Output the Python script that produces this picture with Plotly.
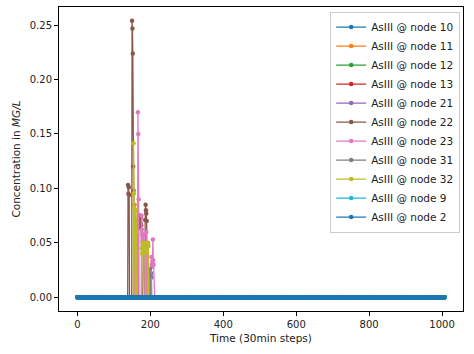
import numpy as np
import plotly.graph_objects as go

# ---- data ----
n_steps = 1008
time_steps = list(range(n_steps))

node_names = ["10", "11", "12", "13", "21", "22", "23", "31", "32", "9", "2"]
node_colors = ["#1f77b4", "#ff7f0e", "#2ca02c", "#d62728", "#9467bd", "#8c564b",
               "#e377c2", "#7f7f7f", "#bcbd22", "#17becf", "#1f77b4"]

# non-zero segments: start step and consecutive values
n10_start, n10_vals = [], []
n11_start = [157]
n11_vals = [[0.085, 0.07]]
n12_start, n12_vals = [], []
n13_start, n13_vals = [], []
n21_start = [202]
n21_vals = [[0.022, 0.018]]
n22_start = [139, 150, 168, 186]
n22_vals = [[0.103, 0.095, 0.101, 0.094],
            [0.254, 0.247, 0.224, 0.120, 0.098],
            [0.072, 0.066, 0.075, 0.064, 0.070, 0.068, 0.073, 0.066],
            [0.071, 0.085, 0.080, 0.077, 0.070]]
n23_start = [158, 166, 176, 189, 203]
n23_vals = [[0.080, 0.060],
            [0.170, 0.150, 0.090],
            [0.075, 0.062, 0.058, 0.052, 0.056],
            [0.060, 0.045],
            [0.037, 0.030, 0.028, 0.033, 0.053, 0.034, 0.030]]
n31_start = [199]
n31_vals = [[0.026, 0.020]]
n32_start = [154, 161, 177, 194]
n32_vals = [[0.1415, 0.095, 0.082],
            [0.080, 0.060],
            [0.045, 0.040, 0.050, 0.042, 0.048, 0.044, 0.046, 0.050, 0.041, 0.044],
            [0.050, 0.047]]
n9_start, n9_vals = [], []
n2_start, n2_vals = [], []

segments = [(n10_start, n10_vals), (n11_start, n11_vals), (n12_start, n12_vals),
            (n13_start, n13_vals), (n21_start, n21_vals), (n22_start, n22_vals),
            (n23_start, n23_vals), (n31_start, n31_vals), (n32_start, n32_vals),
            (n9_start, n9_vals), (n2_start, n2_vals)]

y_ticks = [0.00, 0.05, 0.10, 0.15, 0.20, 0.25]
x_ticks = [0, 200, 400, 600, 800, 1000]

# ---- figure ----
fig = go.Figure()
for name, color, (starts, vals) in zip(node_names, node_colors, segments):
    y = np.zeros(n_steps)
    for s, v in zip(starts, vals):
        y[s:s + len(v)] = v
    fig.add_trace(go.Scatter(
        x=time_steps, y=y, mode="lines+markers", name=f"AsIII @ node {name}",
        line=dict(color=color, width=1.3),
        marker=dict(color=color, size=4.5),
    ))

font = "DejaVu Sans, sans-serif"
axis_common = dict(showline=True, mirror=True, linecolor="black", linewidth=1,
                   ticks="outside", ticklen=4, tickcolor="black", showgrid=False,
                   zeroline=False, tickfont=dict(family=font, size=10, color="#222"))

fig.update_layout(
    width=474, height=354,
    margin=dict(l=59, r=11, t=7, b=43),
    plot_bgcolor="white", paper_bgcolor="white",
    font=dict(family=font, size=10, color="#222"),
    xaxis=dict(range=[-50.35, 1057.35], tickvals=x_ticks,
               title=dict(text="Time (30min steps)", font=dict(size=10.5), standoff=5),
               **axis_common),
    yaxis=dict(range=[-0.0127, 0.2667], tickvals=y_ticks, tickformat=".2f",
               title=dict(text="Concentration in <i>MG/L</i>", font=dict(size=10.5), standoff=7),
               **axis_common),
    legend=dict(x=0.993, y=0.985, xanchor="right", yanchor="top",
                bgcolor="rgba(255,255,255,0.8)", bordercolor="#cccccc", borderwidth=1,
                font=dict(family=font, size=10.5, color="#222"), tracegroupgap=0,
                itemwidth=30),
    showlegend=True,
)

fig.write_html("out.html")
